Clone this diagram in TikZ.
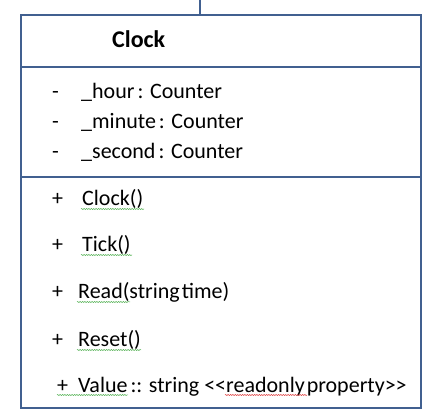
\documentclass[tikz,border=0pt]{standalone}
\usepackage{fontspec}
\setmainfont{Carlito}
\usetikzlibrary{decorations.pathmorphing}
\definecolor{umlblue}{RGB}{65,96,144}
\definecolor{spellgreen}{RGB}{90,180,90}
\definecolor{spellred}{RGB}{225,70,70}
\tikzset{
  frame/.style={draw=umlblue, line width=2.6pt},
  divider/.style={draw=umlblue, line width=2pt},
  member/.style={anchor=base west, inner sep=0pt, font=\fontsize{22}{26}\selectfont},
  title/.style={anchor=base west, inner sep=0pt, font=\fontsize{24}{28}\selectfont\bfseries},
  squig/.style={line width=0.5pt, decorate, decoration={snake, amplitude=0.6pt, segment length=2.4pt}},
}
\begin{document}
\begin{tikzpicture}[x=1pt,y=-1pt]
\useasboundingbox (0,0) rectangle (437,414);
% connector from above
\coordinate (top) at (200,0);
\coordinate (boxtop) at (200,15);
\draw[divider] (top) -- (boxtop);
% box
\draw[frame] (21,15) rectangle (421,408);
\draw[divider] (21,67) -- (421,67);
\draw[divider] (21,177) -- (421,177);
% title
\node[title] (cls) at (112,48) {Clock};
% attributes
\node[member] (d1) at (52,99) {-};
\node[member] (a1) at (81,99) {\_hour\kern3pt: Counter};
\node[member] (d2) at (52,129) {-};
\node[member] (a2) at (81,129) {\_minute\kern3pt: Counter};
\node[member] (d3) at (52,159) {-};
\node[member] (a3) at (81,159) {\_second\kern3pt: Counter};
% methods
\node[member] (p1) at (52,206) {+};
\node[member] (m1) at (82,206) {Clock()};
\node[member] (p2) at (52,252) {+};
\node[member] (m2) at (82,252) {Tick()};
\node[member] (p3) at (52,299) {+};
\node[member] (m3) at (78,299) {Read(string\kern2pt time)};
\node[member] (p4) at (52,347) {+};
\node[member] (m4) at (78,347) {Reset()};
\node[member] (p5) at (57,392) {+};
\node[member] (m5) at (78,392) {Value\kern3pt:: string <{}<readonly\kern2pt property>{}>};
% spell-check underlines
\draw[squig, draw=spellgreen] (81,209) -- (144,209);
\draw[squig, draw=spellgreen] (81,255) -- (132,255);
\draw[squig, draw=spellgreen] (77,302) -- (130,302);
\draw[squig, draw=spellgreen] (77,350) -- (141,350);
\draw[squig, draw=spellgreen] (57,395) -- (128,395);
\draw[squig, draw=spellred] (225,395) -- (307,395);
\end{tikzpicture}
\end{document}
